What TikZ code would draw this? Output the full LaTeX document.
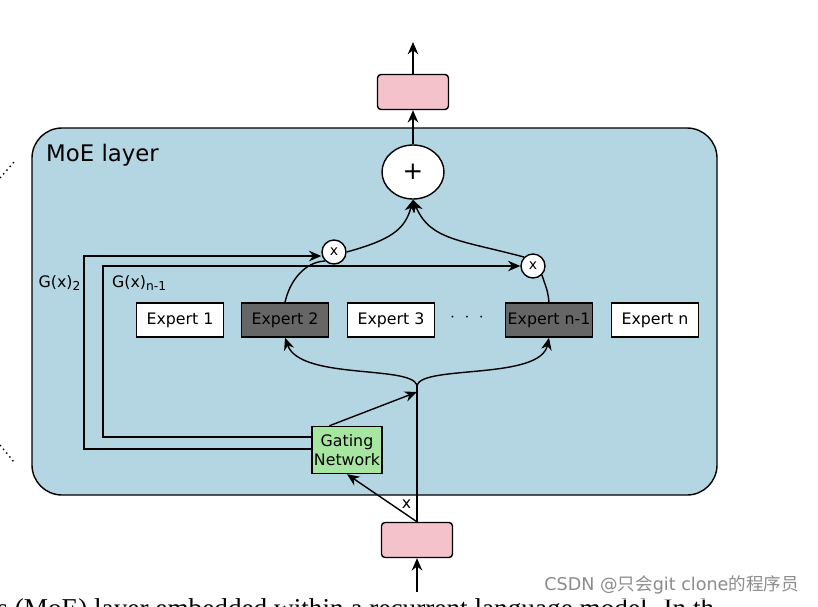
\documentclass[tikz,border=0pt]{standalone}
\usepackage{fontspec}
\setmainfont{DejaVu Sans}
\newfontfamily\capfont{Liberation Serif}
\newfontfamily\cjk{Noto Sans CJK SC}
\usetikzlibrary{arrows.meta,shapes.geometric}
\definecolor{moeblue}{RGB}{180,214,226}
\definecolor{hidpink}{RGB}{244,194,203}
\definecolor{gategreen}{RGB}{166,230,160}
\definecolor{expdark}{RGB}{102,102,102}
\tikzset{
  expert/.style={draw,thick,fill=white,minimum width=1.74cm,minimum height=0.68cm,inner sep=0pt,font=\fontsize{9}{10}\selectfont},
  hidden/.style={draw,thick,fill=hidpink,rounded corners=2pt,minimum width=1.42cm,minimum height=0.7cm},
  mult/.style={draw,thick,circle,fill=white,minimum size=0.48cm,inner sep=0pt,font=\fontsize{8}{8}\selectfont},
  flow/.style={thick,-{Stealth[length=7pt,width=6pt]}}
}
\begin{document}
\begin{tikzpicture}[x=0.02cm,y=-0.02cm]
  \useasboundingbox (0,0) rectangle (818,606);
  \fill[white] (0,0) rectangle (818,606);
  \draw[thick,fill=moeblue,rounded corners=0.6cm] (32,128) rectangle (717,495);
  \node[anchor=west,font=\fontsize{13}{14}\selectfont] (title) at (40,155) {MoE layer};
  \draw[thick,dotted] (0,178) -- (14,162);
  \draw[thick,dotted] (0,445) -- (14,462);

  \node[hidden] (top) at (413,92) {};
  \node[hidden] (bot) at (417,540) {};
  \node[draw,thick,ellipse,fill=white,minimum width=1.24cm,minimum height=1.08cm,font=\fontsize{14}{14}\selectfont] (sum) at (413,172) {+};
  \coordinate (out) at (413,42);
  \coordinate (in) at (417,592);
  \draw[flow] (top) -- (out);
  \draw[flow] (sum) -- (top);
  \draw[flow] (in) -- (bot);

  \node[expert] (e1) at (180,320) {Expert 1};
  \node[expert,fill=expdark] (e2) at (285,320) {Expert 2};
  \node[expert] (e3) at (391,320) {Expert 3};
  \node (dots) at (467,318) {$\cdot\ \cdot\ \cdot$};
  \node[expert,fill=expdark] (en1) at (549,320) {Expert n-1};
  \node[expert] (en) at (655,320) {Expert n};

  \node[draw,thick,fill=gategreen,minimum width=1.4cm,minimum height=0.94cm,inner sep=0pt,align=center,font=\fontsize{9}{11}\selectfont] (gate) at (347,450) {Gating\\Network};

  \node[mult] (m2) at (334,252) {x};
  \node[mult] (mn) at (533,266) {x};

  % input path
  \coordinate (split) at (417,392);
  \draw[thick] (bot.north) -- (417,385);
  \draw[flow] (417,385) .. controls (410,365) and (300,380) .. (e2.south);
  \draw[flow] (417,385) .. controls (424,365) and (540,380) .. (en1.south);
  \draw[flow] (gate.north west) ++(18,0) -- (split);
  \draw[flow] (bot.north) -- node[pos=0.15,above,font=\fontsize{9}{9}\selectfont] {x} (gate.south);

  % gate weights
  \draw[flow] (gate.west |- 0,437) -- (103,437) -- (103,266) -- (mn.west);
  \draw[flow] (gate.west |- 0,449) -- (84,449) -- (84,256) -- (m2.west |- 0,256);
  \node[font=\fontsize{9}{9}\selectfont] (g2) at (60,283) {G(x)$_{\mbox{\fontsize{7}{7}\selectfont 2}}$};
  \node[font=\fontsize{9}{9}\selectfont,anchor=west] (gn) at (106,283) {G(x)$_{\mbox{\fontsize{7}{7}\selectfont n-1}}$};

  % expert outputs
  \draw[thick] (e2.north) .. controls (290,280) and (305,262) .. (m2.south west);
  \draw[thick] (en1.north) .. controls (548,290) and (545,285) .. (mn.south east);
  \draw[flow] (m2.east) .. controls (390,240) and (405,230) .. (sum.south);
  \draw[flow] (mn.north west) .. controls (460,240) and (430,240) .. (sum.south);

  \node[font=\capfont\fontsize{15.5}{16}\selectfont,anchor=west,inner sep=0pt] (cap) at (-3,611) {s (MoE) layer embedded within a recurrent language model. In th};
  \node[anchor=east,text=gray!90,fill=white,fill opacity=0.6,text opacity=1,font=\fontsize{10}{10}\selectfont] (mark) at (805,585) {CSDN @{\cjk 只会}git clone{\cjk 的程序员}};
\end{tikzpicture}
\end{document}
